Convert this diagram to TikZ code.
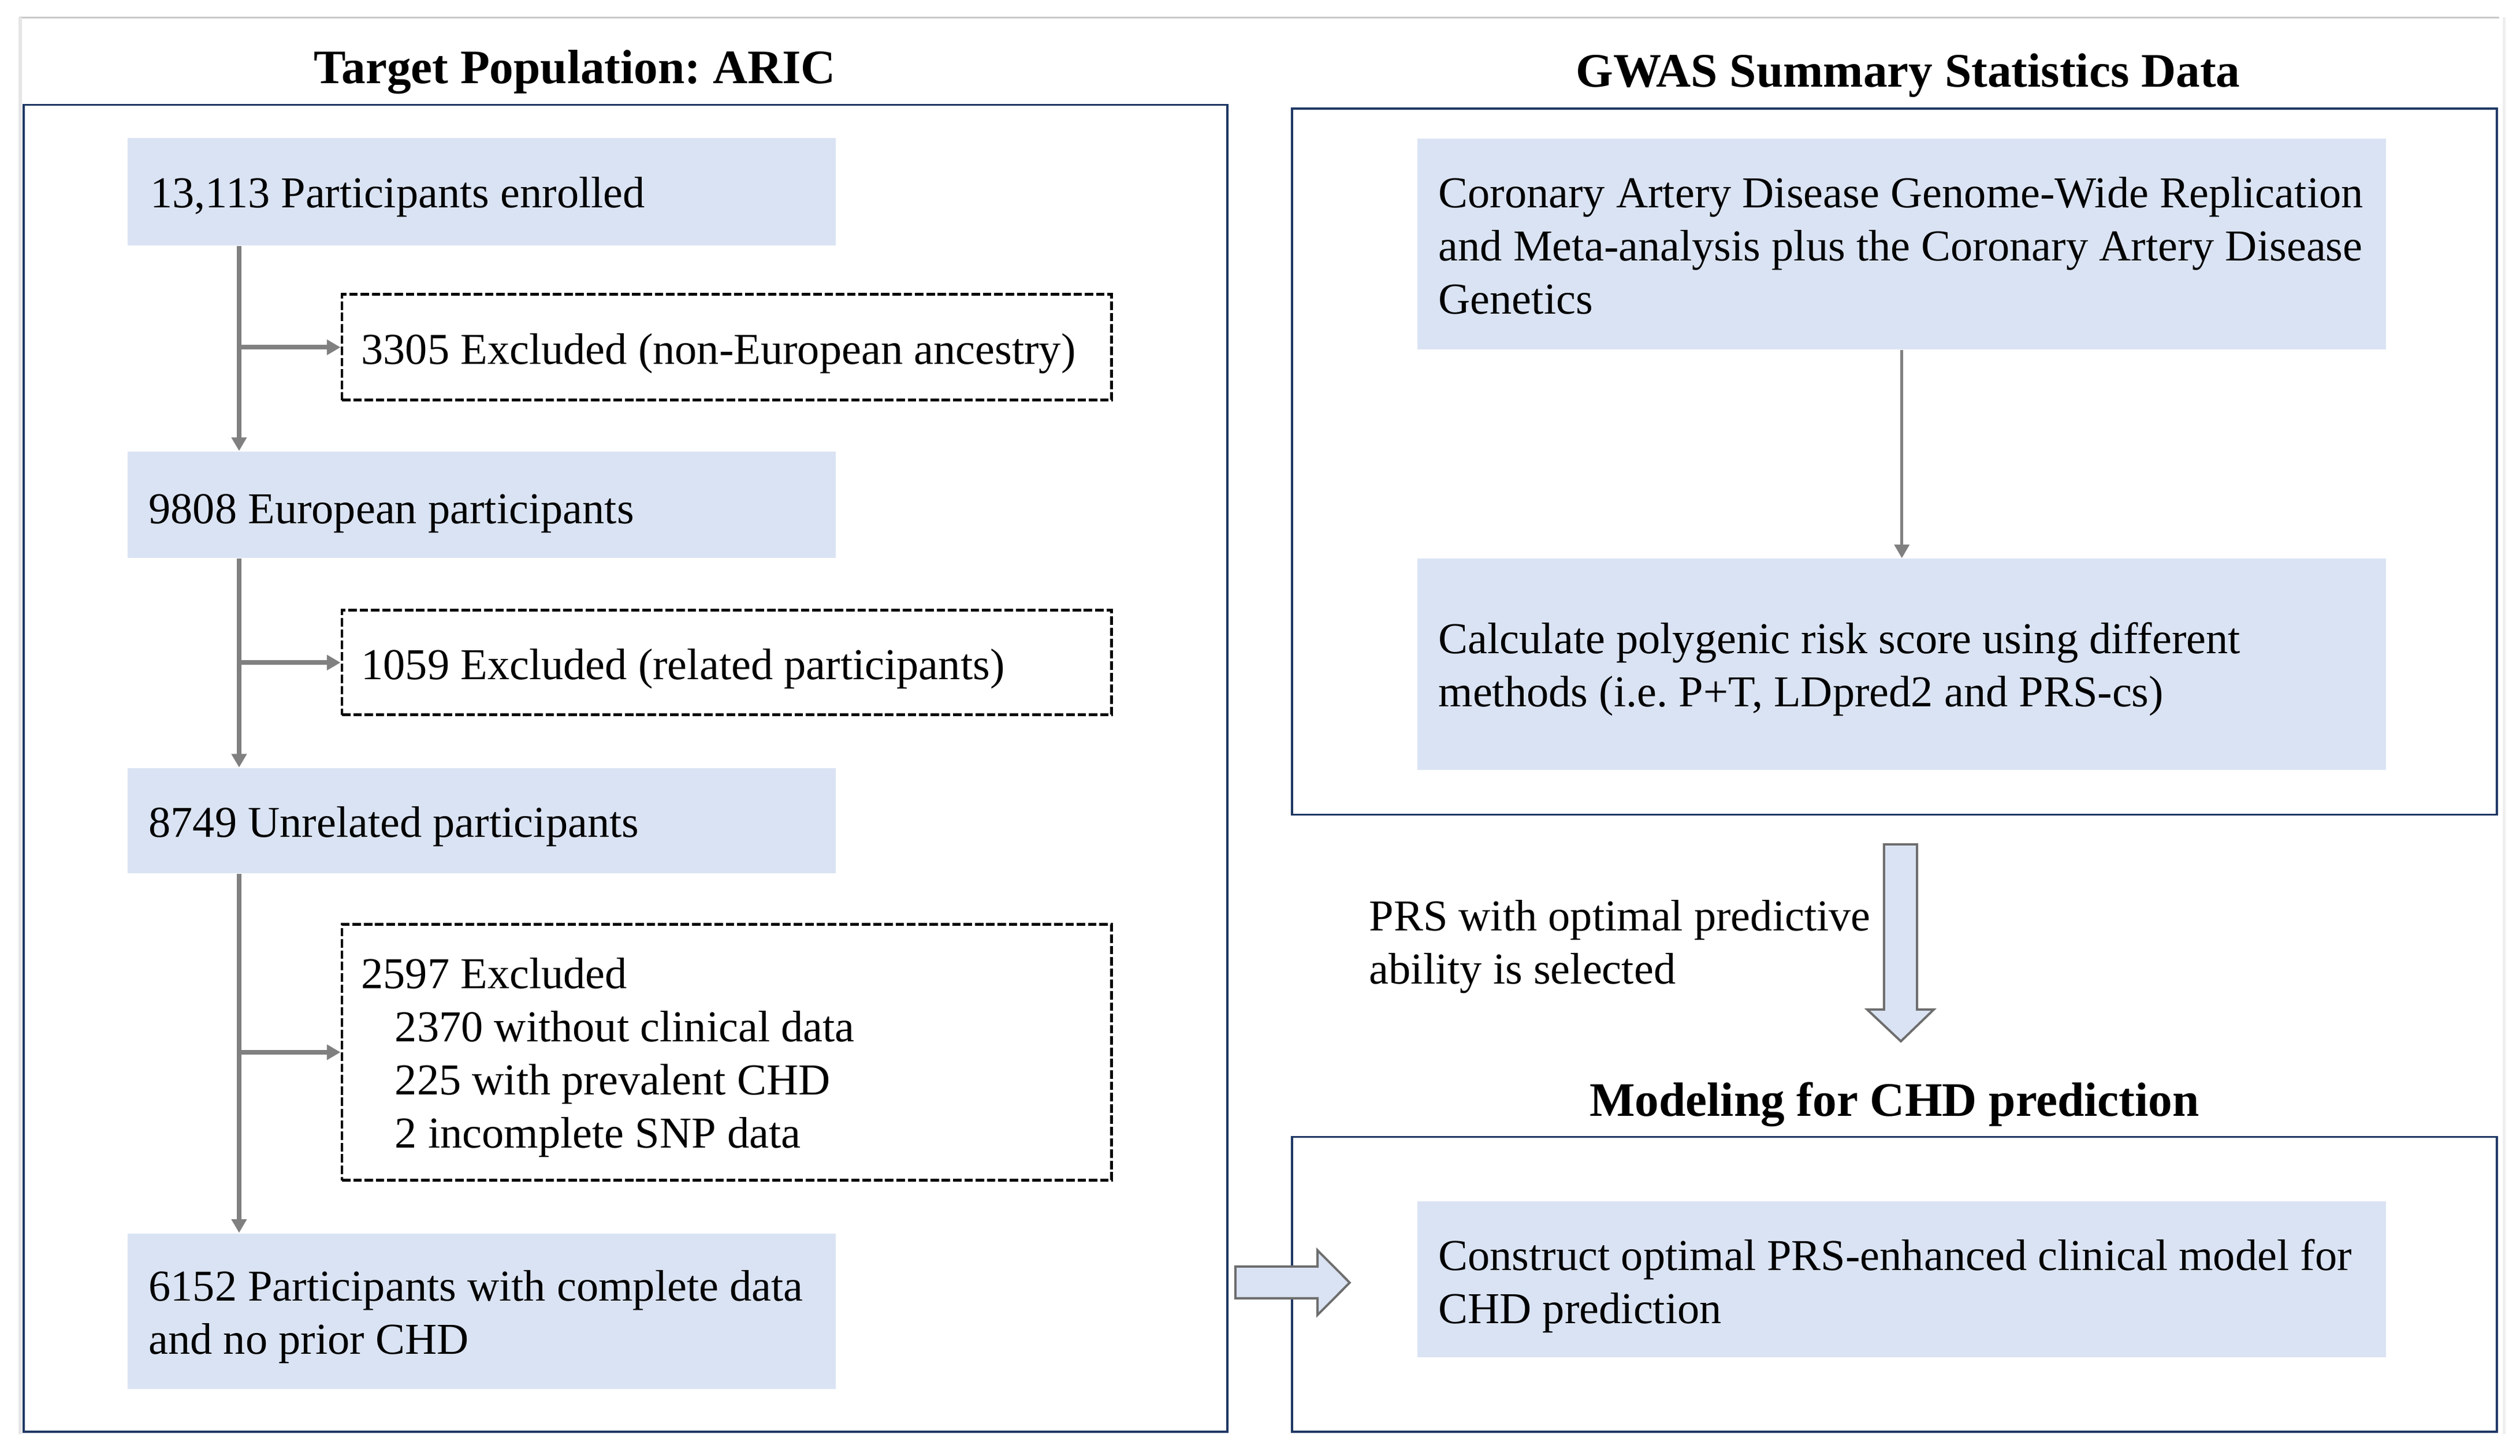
\documentclass[tikz,border=0pt]{standalone}
\usepackage{fontspec}
\setmainfont{Liberation Serif}
\usetikzlibrary{arrows.meta}
\definecolor{boxblue}{HTML}{DAE3F3}
\definecolor{navy}{HTML}{1F3864}
\definecolor{conngray}{HTML}{808080}
\definecolor{arrgray}{HTML}{6E6E6E}
\frenchspacing
\begin{document}
\begin{tikzpicture}[x=0.02cm,y=-0.02cm,
  bodytext/.style={font=\fontsize{15.6}{18.8}\selectfont, anchor=base west, inner sep=0pt, align=left},
  titletext/.style={font=\fontsize{17}{20}\selectfont\bfseries, anchor=base, inner sep=0pt},
  bluebox/.style={fill=boxblue, draw=none, inner sep=0pt, minimum width=#1},
  dashbox/.style={draw=black, line width=1pt, dash pattern=on 3pt off 1pt, fill=white, inner sep=0pt, minimum width=9.564cm},
  panel/.style={draw=navy, line width=0.7pt},
  conn/.style={draw=conngray, line width=1.6pt, -{Triangle[length=4.8pt,width=5.2pt]}},
  blockarrow/.style={fill=boxblue, draw=arrgray, line width=0.8pt, line join=miter}]
\useasboundingbox (0,0) rectangle (1565,904);
% outer faint frame
\draw[draw={rgb,255:red,200;green,200;blue,200}, line width=0.6pt] (12,10.8) -- (1552,10.8);
\draw[draw={rgb,255:red,230;green,230;blue,230}, line width=1.2pt] (12.5,10.8) -- (12.5,890.6);
\draw[draw={rgb,255:red,239;green,239;blue,239}, line width=1.0pt] (1555,10.8) -- (1555,890.6);

% panels
\draw[panel] (14.7,65) rectangle (762.2,889.2);
\draw[panel] (802.4,67.5) rectangle (1550.6,506);
\draw[panel] (802.4,706) rectangle (1550.6,889.2);

% titles
\node[titletext] (title1) at (357,52) {Target Population: ARIC};
\node[titletext] (title2) at (1185,54) {GWAS Summary Statistics Data};
\node[titletext] (title3) at (1176.5,693) {Modeling for CHD prediction};

% left boxes
\node[bluebox=8.794cm, minimum height=1.334cm] (b1) at (299.15,119.05) {};
\node[bluebox=8.794cm, minimum height=1.322cm] (b2) at (299.15,313.45) {};
\node[bluebox=8.794cm, minimum height=1.31cm] (b3) at (299.15,509.75) {};
\node[bluebox=8.794cm, minimum height=1.93cm] (b4) at (299.15,814.25) {};
\node[dashbox, minimum height=1.312cm] (d1) at (451.4,215.7) {};
\node[dashbox, minimum height=1.30cm] (d2) at (451.4,411.5) {};
\node[dashbox, minimum height=3.18cm] (d3) at (451.4,653.5) {};

% right boxes
\node[bluebox=12.036cm, minimum height=2.62cm] (bA) at (1181.1,151.5) {};
\node[bluebox=12.036cm, minimum height=2.62cm] (bB) at (1181.1,412.5) {};
\node[bluebox=12.036cm, minimum height=1.94cm] (bC) at (1181.1,794.5) {};

% texts (anchor = baseline of the last line)
\node[bodytext] (t1) at (93,129) {13,113 Participants enrolled};
\node[bodytext] (td1) at (224,226) {3305 Excluded (non-European ancestry)};
\node[bodytext] (t2) at (92,325) {9808 European participants};
\node[bodytext] (td2) at (224,422) {1059 Excluded (related participants)};
\node[bodytext] (t3) at (92,520) {8749 Unrelated participants};
\node[bodytext] (td3) at (224,713) {2597 Excluded\\\hspace*{0.42cm}2370 without clinical data\\\hspace*{0.42cm}225 with prevalent CHD\\\hspace*{0.42cm}2 incomplete SNP data};
\node[bodytext] (t4) at (92,841) {6152 Participants with complete data\\and no prior CHD};
\node[bodytext] (tA) at (893,195) {Coronary Artery Disease Genome-Wide Replication\\and Meta-analysis plus the Coronary Artery Disease\\Genetics};
\node[bodytext] (tB) at (893,439) {Calculate polygenic risk score using different\\methods (i.e. P+T, LDpred2 and PRS-cs)};
\node[bodytext] (tC) at (893,822) {Construct optimal PRS-enhanced clinical model for\\CHD prediction};
\node[bodytext] (prs) at (850,611) {PRS with optimal predictive\\ability is selected};

% connectors
\coordinate (j1) at (148.8,215.7);
\coordinate (j2) at (148.8,411.5);
\coordinate (j3) at (148.8,653.5);
\draw[conn] ([xshift=1.39cm]b1.south west) -- ([xshift=1.39cm]b2.north west);
\draw[conn] ([xshift=1.39cm]b2.south west) -- ([xshift=1.39cm]b3.north west);
\draw[conn] ([xshift=1.39cm]b3.south west) -- ([xshift=1.39cm]b4.north west);
\draw[conn] (j1) -- (d1.west);
\draw[conn] (j2) -- (d2.west);
\draw[conn] (j3) -- (d3.west);
\draw[conn, line width=1pt] (bA.south) -- (bB.north);

% block arrows
\draw[blockarrow] (1170,524.4) -- (1190.5,524.4) -- (1190.5,627) -- (1200.9,627) -- (1180.5,646.7) -- (1159.6,627) -- (1170,627) -- cycle;
\draw[blockarrow] (767.2,786.6) -- (818.2,786.6) -- (818.2,776.5) -- (838.2,796.6) -- (818.2,816.7) -- (818.2,806.3) -- (767.2,806.3) -- cycle;
\end{tikzpicture}
\end{document}
